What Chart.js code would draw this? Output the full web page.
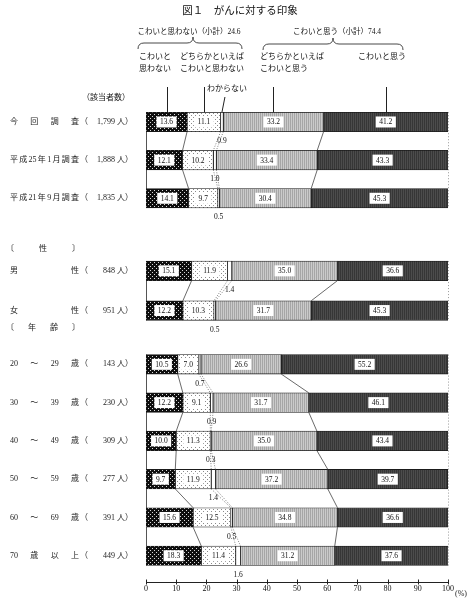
<!DOCTYPE html>
<html><head><meta charset="utf-8">
<script src="https://cdn.jsdelivr.net/npm/chart.js@4"></script>
<style>
html,body{margin:0;padding:0;background:#fff;}
#wrap{position:relative;width:474px;height:604px;overflow:hidden;}
canvas{position:absolute;left:0;top:0;}
</style></head><body><div id="wrap">
<canvas id="c0" width="474" height="604"></canvas>
<canvas id="c1" width="474" height="604"></canvas>
<canvas id="c2" width="474" height="604"></canvas>
</div>
<script>
// ---------- data ----------
const chartTitle = '図１　がんに対する印象';
const rowLabels = ['今回調査','平成25年1月調査','平成21年9月調査','男性','女性','20〜29歳','30〜39歳','40〜49歳','50〜59歳','60〜69歳','70歳以上'];
const rowCounts = ['1,799','1,888','1,835','848','951','143','230','309','277','391','449'];
const seriesNames = ['こわいと\n思わない','どちらかといえば\nこわいと思わない','わからない','どちらかといえば\nこわいと思う','こわいと思う'];
const notAfraid       = [13.6,12.1,14.1,15.1,12.2,10.5,12.2,10.0, 9.7,15.6,18.3];
const ratherNotAfraid = [11.1,10.2, 9.7,11.9,10.3, 7.0, 9.1,11.3,11.9,12.5,11.4];
const dontKnow        = [ 0.9, 1.0, 0.5, 1.4, 0.5, 0.7, 0.9, 0.3, 1.4, 0.5, 1.6];
const ratherAfraid    = [33.2,33.4,30.4,35.0,31.7,26.6,31.7,35.0,37.2,34.8,31.2];
const afraid          = [41.2,43.3,45.3,36.6,45.3,55.2,46.1,43.4,39.7,36.6,37.6];
const subtotalLabels = ['こわいと思わない（小計）','こわいと思う（小計）'];
const subtotalValues = [24.6, 74.4];
const groupTitles = ['', '性', '年齢'];
const groupRows = [[0,1,2],[3,4],[5,6,7,8,9,10]];
const countHeader = '（該当者数）';
const xMin = 0, xMax = 100, xStep = 10;
const unitLabel = '(%)';

const seriesValues = [notAfraid, ratherNotAfraid, dontKnow, ratherAfraid, afraid];

// ---------- style / layout ----------
const FONT = '"Liberation Serif","Noto Sans CJK JP",serif';
const JFONT = '"Noto Sans CJK JP",sans-serif';
const groupLayout = [
  {top:102.9, pitch:38.15, axis:false, titleY:null},
  {top:251.0, pitch:39.7,  axis:false, titleY:249},
  {top:345.2, pitch:38.28, axis:true,  titleY:328, axisY:582}
];
const BAR_T = 19.5;

function makePattern(w,h,fn){
  const c=document.createElement('canvas'); c.width=w; c.height=h;
  const x=c.getContext('2d'); fn(x);
  return document.getElementById('c0').getContext('2d').createPattern(c,'repeat');
}
const patterns = [
  makePattern(4,4,x=>{x.fillStyle='#0e0e0e';x.fillRect(0,0,4,4);x.fillStyle='#d8d8d8';x.fillRect(0,0,1,1);x.fillRect(2,2,1,1);}),
  makePattern(4,4,x=>{x.fillStyle='#ffffff';x.fillRect(0,0,4,4);x.fillStyle='#8a8a8a';x.fillRect(1,1,1,1);x.fillRect(3,3,1,1);}),
  '#ffffff',
  makePattern(2,1,x=>{x.fillStyle='#a6a6a6';x.fillRect(0,0,1,1);x.fillStyle='#cbcbcb';x.fillRect(1,0,1,1);}),
  makePattern(2,1,x=>{x.fillStyle='#363636';x.fillRect(0,0,1,1);x.fillStyle='#4c4c4c';x.fillRect(1,0,1,1);})
];

function tokens(s){ return s.match(/\d+|./g); }
function justify(ctx, toks, x0, x1, y){
  const ws = toks.map(t=>ctx.measureText(t).width);
  const W = ws.reduce((a,b)=>a+b,0);
  const gap = toks.length>1 ? (x1-x0-W)/(toks.length-1) : 0;
  let x = x0;
  ctx.textAlign='left';
  toks.forEach((t,i)=>{ ctx.fillText(t,x,y); x += ws[i]+gap; });
}
function brace(ctx,x1,x2,xm,yH,yEnd,yTip){
  const r=6;
  ctx.beginPath();
  ctx.moveTo(x1,yEnd);
  ctx.quadraticCurveTo(x1,yH,x1+r,yH);
  ctx.lineTo(xm-r,yH);
  ctx.quadraticCurveTo(xm,yH,xm,yTip);
  ctx.quadraticCurveTo(xm,yH,xm+r,yH);
  ctx.lineTo(x2-r,yH);
  ctx.quadraticCurveTo(x2,yH,x2,yEnd);
  ctx.stroke();
}

const customPlugin = {
  id:'custom',
  beforeDatasetsDraw(chart){
    const ctx = chart.ctx, xs = chart.scales.x;
    const m0 = chart.getDatasetMeta(0).data;
    const top = m0[0].y - m0[0].height/2, bot = m0[m0.length-1].y + m0[m0.length-1].height/2;
    ctx.save();
    ctx.strokeStyle='#555'; ctx.lineWidth=1;
    ctx.beginPath(); ctx.moveTo(xs.getPixelForValue(xMin)+0.5,top); ctx.lineTo(xs.getPixelForValue(xMin)+0.5,bot); ctx.stroke();
    ctx.strokeStyle='#999'; ctx.setLineDash([1,2]);
    ctx.beginPath(); ctx.moveTo(xs.getPixelForValue(xMax)+0.5,top); ctx.lineTo(xs.getPixelForValue(xMax)+0.5,bot); ctx.stroke();
    ctx.restore();
  },
  afterDatasetsDraw(chart){
    const gi = +chart.canvas.id.slice(1);
    const rows = groupRows[gi];
    const ctx = chart.ctx, xs = chart.scales.x;
    const metas = seriesValues.map((_,k)=>chart.getDatasetMeta(k).data);
    ctx.save();
    // connectors between consecutive bars
    for(let i=0;i<rows.length-1;i++){
      let c1=0,c2=0;
      for(let k=0;k<4;k++){
        c1 += seriesValues[k][rows[i]]; c2 += seriesValues[k][rows[i+1]];
        const e1 = metas[0][i], e2 = metas[0][i+1];
        const yb = e1.y + e1.height/2, yt = e2.y - e2.height/2;
        ctx.beginPath();
        ctx.strokeStyle = (k===1||k===2)?'#666':'#444';
        ctx.lineWidth = 0.8;
        ctx.setLineDash((k===1||k===2)?[1,1.5]:[]);
        ctx.moveTo(xs.getPixelForValue(c1), yb);
        ctx.lineTo(xs.getPixelForValue(c2), yt);
        ctx.stroke();
      }
    }
    ctx.setLineDash([]);
    // value labels
    ctx.font = '7.5px '+FONT;
    ctx.textBaseline='middle';
    metas.forEach((els,k)=>{
      els.forEach((el,i)=>{
        const v = seriesValues[k][rows[i]].toFixed(1);
        const cx = (el.x + el.base)/2;
        if(k===2){
          ctx.fillStyle='#111'; ctx.textAlign='center';
          ctx.fillText(v, cx, el.y + el.height/2 + 9.5);
        } else {
          const w = ctx.measureText(v).width + 7;
          ctx.fillStyle='#fff';
          ctx.fillRect(cx - w/2, el.y - 5.5, w, 11);
          ctx.fillStyle='#111'; ctx.textAlign='center';
          ctx.fillText(v, cx, el.y + 0.5);
        }
      });
    });
    // row labels
    ctx.font = '8px '+FONT;
    ctx.fillStyle='#222';
    metas[0].forEach((el,i)=>{
      const r = rows[i];
      justify(ctx, tokens(rowLabels[r]), 10, 79, el.y);
      ctx.textAlign='left'; ctx.fillText('（', 80, el.y);
      ctx.textAlign='right'; ctx.fillText(rowCounts[r], 115, el.y);
      ctx.textAlign='left'; ctx.fillText('人）', 117, el.y);
    });
    const L = groupLayout[gi];
    if(groupTitles[gi]){
      justify(ctx, ['〔', ...tokens(groupTitles[gi]), '〕'], 6, 80, L.titleY);
    }
    if(L.axis){
      ctx.strokeStyle='#222'; ctx.lineWidth=1;
      const ya = Math.round(L.axisY)+0.5;
      ctx.beginPath(); ctx.moveTo(xs.left, ya); ctx.lineTo(xs.right, ya); ctx.stroke();
      for(let v=xMin; v<=xMax; v+=xStep){
        const x = Math.round(xs.getPixelForValue(v))+0.5;
        ctx.beginPath(); ctx.moveTo(x, ya-3); ctx.lineTo(x, ya+2); ctx.stroke();
      }
      ctx.textAlign='center'; ctx.font='8px '+FONT; ctx.fillStyle='#222';
      ctx.fillText(unitLabel, 461, 594);
    }
    if(gi===0){
      ctx.textBaseline='middle';
      ctx.fillStyle='#111';
      ctx.font='10.5px '+JFONT; ctx.textAlign='center';
      ctx.fillText(chartTitle, 240, 10);
      ctx.font='7.5px '+FONT;
      ctx.fillText(subtotalLabels[0]+subtotalValues[0].toFixed(1), 189, 32);
      ctx.fillText(subtotalLabels[1]+subtotalValues[1].toFixed(1), 337, 32);
      ctx.strokeStyle='#333'; ctx.lineWidth=0.9;
      brace(ctx,138,242,193,43,49,37);
      brace(ctx,263,403,333,44,50,38);
      ctx.font='8px '+FONT;
      const hdr = [{x:155,a:'center'},{x:212,a:'center'},{x:227,a:'center',y:89},{x:260,a:'left'},{x:382,a:'center'}];
      seriesNames.forEach((n,k)=>{
        const lines = n.split('\n');
        ctx.textAlign = hdr[k].a;
        lines.forEach((ln,j)=>ctx.fillText(ln, hdr[k].x, (hdr[k].y||57) + j*12));
      });
      ctx.textAlign='center';
      ctx.fillText(countHeader, 106, 98);
      ctx.strokeStyle='#222'; ctx.lineWidth=1;
      metas.forEach((els,k)=>{
        const el = els[0];
        const cx = (el.x+el.base)/2, yt = el.y - el.height/2;
        ctx.beginPath();
        if(k===2){ ctx.moveTo(cx+3, 97); ctx.lineTo(cx, yt); }
        else { ctx.moveTo(Math.round(cx)+0.5, 87); ctx.lineTo(Math.round(cx)+0.5, yt); }
        ctx.stroke();
      });
    }
    ctx.restore();
  }
};

function makeChart(gi){
  const rows = groupRows[gi];
  const L = groupLayout[gi];
  const n = rows.length;
  const areaBottom = L.top + L.pitch*n;
  const datasets = seriesValues.map((vals,k)=>({
    label: seriesNames[k].replace('\n',''),
    data: rows.map(r=>vals[r]),
    backgroundColor: patterns[k],
    borderColor: '#1a1a1a',
    borderWidth: 0.8,
    borderSkipped: false,
    barThickness: BAR_T
  }));
  const xScale = {
    type:'linear', stacked:true, min:xMin, max:xMax,
    display:L.axis,
    grid:{display:false, drawTicks:false},
    border:{display:false},
    ticks:{stepSize:xStep, padding:(L.axis? (L.axisY-areaBottom)+2.5 : 2), color:'#111', font:{size:8, family:FONT}, maxRotation:0, autoSkip:false}
  };
  if(L.axis){ xScale.afterFit = s => { s.height = 604 - areaBottom; }; }
  return new Chart(document.getElementById('c'+gi), {
    type:'bar',
    data:{labels: rows.map(r=>rowLabels[r]), datasets},
    options:{
      indexAxis:'y',
      responsive:false,
      animation:false,
      events:[],
      layout:{padding:{left:146, right:26, top:L.top, bottom:(L.axis ? 0 : 604 - areaBottom)}},
      plugins:{legend:{display:false}, tooltip:{enabled:false}},
      scales:{
        x: xScale,
        y:{ type:'category', stacked:true, display:false }
      }
    },
    plugins:[customPlugin]
  });
}
[0,1,2].forEach(makeChart);
</script>
</body></html>
